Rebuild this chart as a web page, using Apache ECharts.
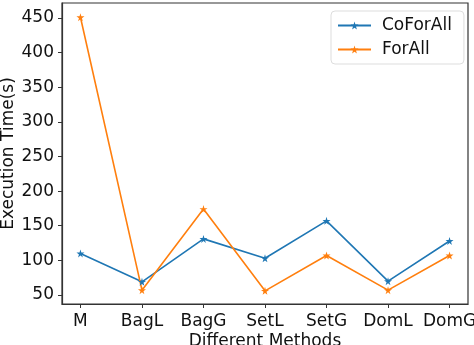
<!DOCTYPE html>
<html><head><meta charset="utf-8">
<script src="https://cdn.jsdelivr.net/npm/echarts@6/dist/echarts.min.js"></script>
<style>html,body{margin:0;padding:0;background:#fff}#c{width:474px;height:345px}</style>
</head><body><div id="c"></div>
<script>
const categories = ['M','BagL','BagG','SetL','SetG','DomL','DomG'];
const coForAll = [110, 69, 131, 103, 157, 70, 128];
const forAll = [451, 57, 174, 56, 107, 57, 107];
const yTicks = [50,100,150,200,250,300,350,400,450];
const xTicks = [0,1,2,3,4,5,6];

const star = 'path://M50,0 L61,35 L98,35 L68,57 L79,91 L50,70 L21,91 L32,57 L2,35 L39,35 Z';
const font = 'DejaVu Sans';
const chart = echarts.init(document.getElementById('c'));
const mk = (arr) => arr.map((v,i)=>[i,v]);
chart.setOption({
  animation:false,
  textStyle:{fontFamily:font},
  grid:{left:62,right:6,top:3,bottom:41,show:true,borderColor:'#333',borderWidth:1.2,
        containLabel:false,outerBoundsMode:'none'},
  legend:{
    orient:'vertical', left:331, top:11, width:110,
    backgroundColor:'#fff', borderColor:'#ddd', borderWidth:1, borderRadius:4,
    padding:[6,12,6,6], itemGap:7, itemWidth:33, itemHeight:10,
    textStyle:{fontFamily:font,fontSize:17,color:'#111',padding:[0,0,0,6]},
    data:['CoForAll','ForAll']
  },
  xAxis:{
    type:'value', min:-0.3, max:6.3,
    name:'Different Methods', nameLocation:'middle', nameGap:29, nameMoveOverlap:false,
    nameTextStyle:{fontFamily:font,fontSize:17,color:'#111'},
    splitLine:{show:false},
    axisLine:{show:true,onZero:false,lineStyle:{color:'#333',width:1.2}},
    axisTick:{show:true,length:4,customValues:xTicks,lineStyle:{color:'#333'}},
    axisLabel:{customValues:xTicks,fontSize:17,color:'#111',margin:9,
      formatter:(v)=>categories[Math.round(v)]}
  },
  yAxis:{
    type:'value', min:37, max:471.5,
    name:'Execution Time(s)', nameLocation:'middle', nameGap:45, nameMoveOverlap:false,
    nameTextStyle:{fontFamily:font,fontSize:17,color:'#111'},
    splitLine:{show:false},
    axisLine:{show:true,onZero:false,lineStyle:{color:'#333',width:1.2}},
    axisTick:{show:true,length:4,customValues:yTicks,lineStyle:{color:'#333'}},
    axisLabel:{customValues:yTicks,fontSize:17,color:'#111',margin:8}
  },
  series:[
    {name:'CoForAll',type:'line',data:mk(coForAll),color:'#1f77b4',
     symbol:star,symbolSize:8,lineStyle:{width:1.6},itemStyle:{color:'#1f77b4'}},
    {name:'ForAll',type:'line',data:mk(forAll),color:'#ff7f0e',
     symbol:star,symbolSize:8,lineStyle:{width:1.6},itemStyle:{color:'#ff7f0e'}}
  ]
});
</script></body></html>
